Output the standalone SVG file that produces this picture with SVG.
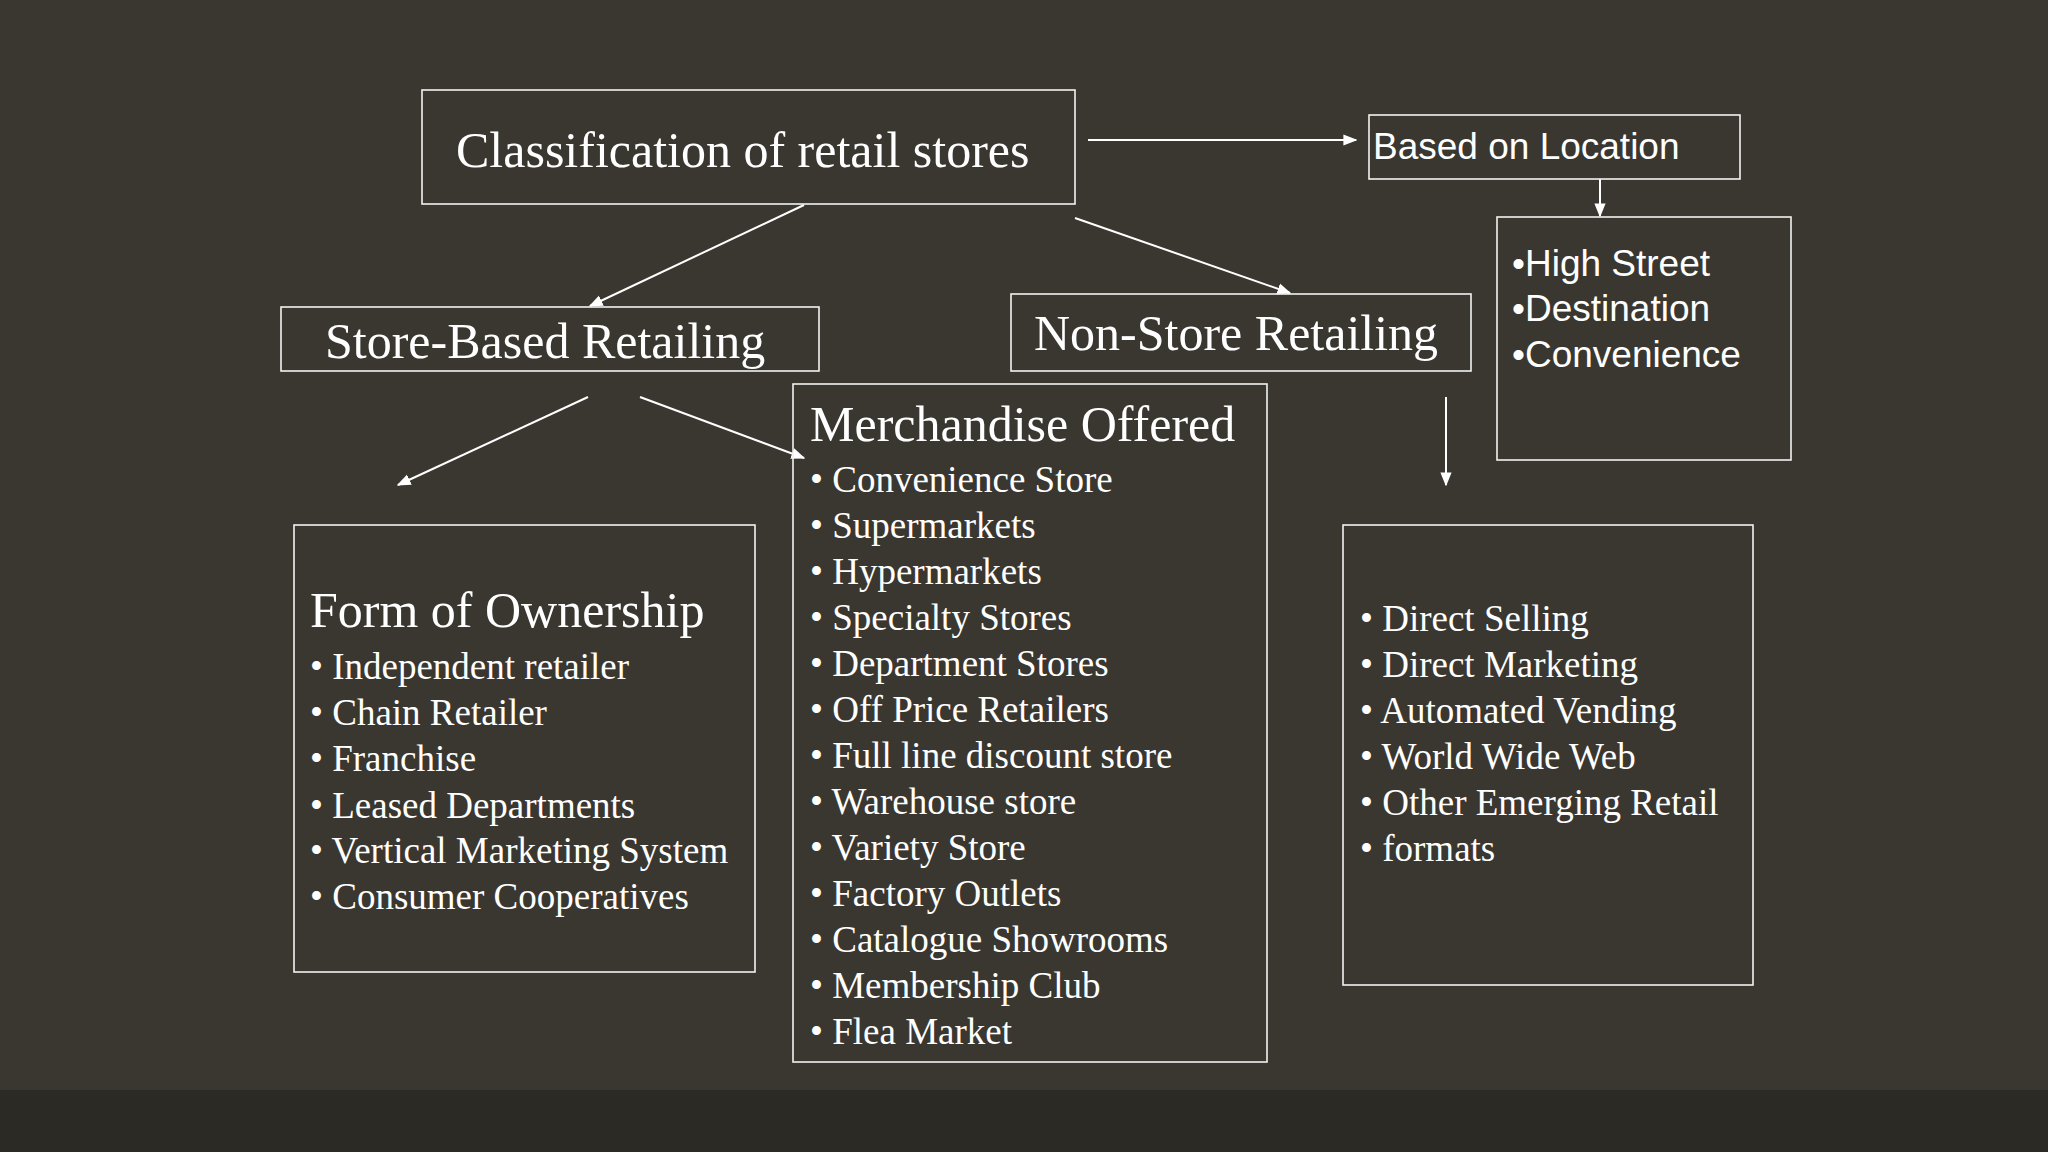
<svg xmlns="http://www.w3.org/2000/svg" width="2048" height="1152" viewBox="0 0 2048 1152">
<defs>
<style>
.b{fill:none;stroke:#f2f2f2;stroke-width:1.6}
.s{font-family:"Liberation Serif",serif;fill:#fff}
.a{font-family:"Liberation Sans",sans-serif;fill:#fff;font-size:37px}
.t{font-size:50px}
.i{font-size:37px}
.c line{stroke:#fff;stroke-width:2;marker-end:url(#m)}
</style>
<marker id="m" viewBox="0 0 10 10" refX="9" refY="5" markerWidth="7" markerHeight="7" orient="auto"><path d="M0,1 L10,5 L0,9 z" fill="#fff"/></marker>
</defs>
<rect width="2048" height="1152" fill="#3a3731"/>
<rect y="1090" width="2048" height="62" fill="#2c2a25"/>
<g class="c">
<line x1="1088" y1="140" x2="1356" y2="140"/>
<line x1="1600" y1="179" x2="1600" y2="216"/>
<line x1="804" y1="205" x2="590" y2="306"/>
<line x1="1075" y1="218" x2="1290" y2="293"/>
<line x1="588" y1="397" x2="398" y2="485"/>
<line x1="640" y1="397" x2="804" y2="458"/>
<line x1="1446" y1="397" x2="1446" y2="485"/>
</g>
<g id="root"><rect class="b" x="422" y="90" width="653" height="114"/><text class="s t" x="456" y="167">Classification of retail stores</text></g>
<g id="loc"><rect class="b" x="1369" y="115" width="371" height="64"/><text class="a" x="1373" y="159">Based on Location</text></g>
<g id="loclist"><rect class="b" x="1497" y="217" width="294" height="243"/><text class="a" x="1512" y="276">•High Street</text><text class="a" x="1512" y="321">•Destination</text><text class="a" x="1512" y="367">•Convenience</text></g>
<g id="store"><rect class="b" x="281" y="307" width="538" height="64"/><text class="s t" x="325" y="358">Store-Based Retailing</text></g>
<g id="nonstore"><rect class="b" x="1011" y="294" width="460" height="77"/><text class="s t" x="1034" y="350">Non-Store Retailing</text></g>
<g id="own"><rect class="b" x="294" y="525" width="461" height="447"/>
<text class="s t" x="310" y="627">Form of Ownership</text>
<text class="s i" x="310" y="679">• Independent retailer</text>
<text class="s i" x="310" y="725">• Chain Retailer</text>
<text class="s i" x="310" y="771">• Franchise</text>
<text class="s i" x="310" y="818">• Leased Departments</text>
<text class="s i" x="310" y="863">• Vertical Marketing System</text>
<text class="s i" x="310" y="909">• Consumer Cooperatives</text></g>
<g id="merch"><rect class="b" x="793" y="384" width="474" height="678"/>
<text class="s t" x="810" y="441">Merchandise Offered</text>
<text class="s i" x="810" y="492">• Convenience Store</text>
<text class="s i" x="810" y="538">• Supermarkets</text>
<text class="s i" x="810" y="584">• Hypermarkets</text>
<text class="s i" x="810" y="630">• Specialty Stores</text>
<text class="s i" x="810" y="676">• Department Stores</text>
<text class="s i" x="810" y="722">• Off Price Retailers</text>
<text class="s i" x="810" y="768">• Full line discount store</text>
<text class="s i" x="810" y="814">• Warehouse store</text>
<text class="s i" x="810" y="860">• Variety Store</text>
<text class="s i" x="810" y="906">• Factory Outlets</text>
<text class="s i" x="810" y="952">• Catalogue Showrooms</text>
<text class="s i" x="810" y="998">• Membership Club</text>
<text class="s i" x="810" y="1044">• Flea Market</text></g>
<g id="nslist"><rect class="b" x="1343" y="525" width="410" height="460"/>
<text class="s i" x="1360" y="631">• Direct Selling</text>
<text class="s i" x="1360" y="677">• Direct Marketing</text>
<text class="s i" x="1360" y="723">• Automated Vending</text>
<text class="s i" x="1360" y="769">• World Wide Web</text>
<text class="s i" x="1360" y="815">• Other Emerging Retail</text>
<text class="s i" x="1360" y="861">• formats</text></g>
</svg>
